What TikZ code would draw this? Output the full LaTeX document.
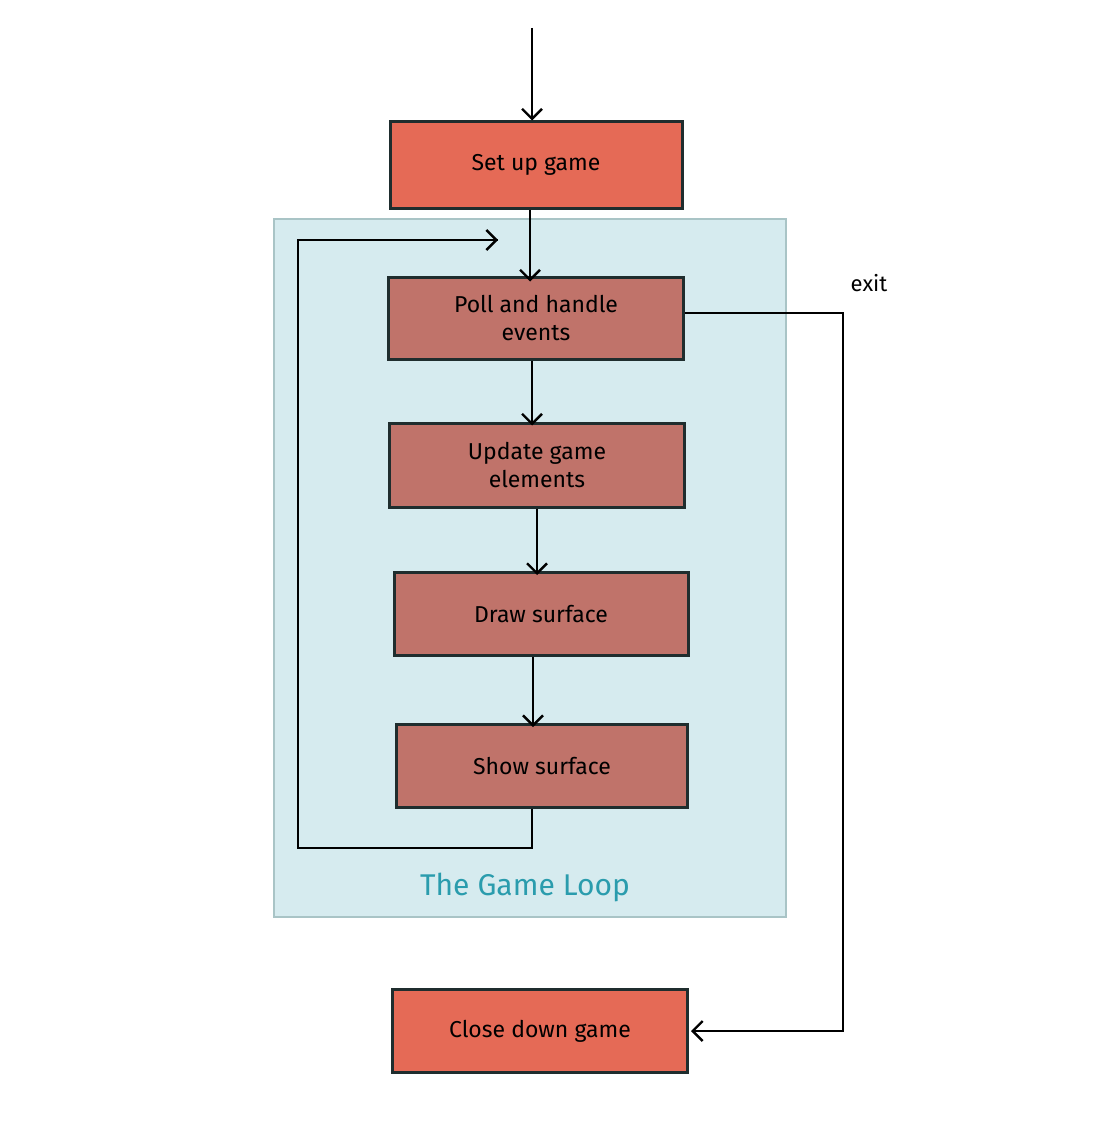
\documentclass[tikz,border=0pt]{standalone}
\usepackage{fontspec}
\setmainfont{Fira Sans}
\usetikzlibrary{arrows.meta}
\definecolor{topc}{HTML}{E56A56}
\definecolor{inc}{HTML}{C0736A}
\definecolor{bgc}{HTML}{D6EBEF}
\definecolor{bgl}{HTML}{A9C4C6}
\definecolor{edge}{HTML}{1F2D2E}
\definecolor{teal}{HTML}{2A9CAD}
\begin{document}
\begin{tikzpicture}[x=1pt,y=-1pt,
  box/.style={draw=edge,line width=3pt,minimum height=84pt,align=center,font=\fontsize{23}{28}\selectfont},
  arr/.style={draw=black,line width=2.4pt,-{Straight Barb[length=10pt,width=20pt]}},
  ln/.style={draw=black,line width=2.4pt}]
\useasboundingbox (0,0) rectangle (1113,1134);
\node[draw=bgl,fill=bgc,line width=1.5pt,minimum width=512pt,minimum height=698pt,inner sep=0] (loop) at (530,568) {};
\node[font=\fontsize{30}{32}\selectfont,text=teal] (lbl) at (525,887) {The Game Loop};
\node[box,fill=topc,minimum width=292pt,minimum height=86pt] (setup) at (536,165) {Set up game};
\node[box,fill=inc,minimum width=295pt,minimum height=82pt] (poll) at (536,318) {Poll and handle\\events};
\node[box,fill=inc,minimum width=295pt] (upd) at (537,465) {Update game\\elements};
\node[box,fill=inc,minimum width=294pt,minimum height=83pt] (draw) at (541,614) {Draw surface};
\node[box,fill=inc,minimum width=291pt,minimum height=83pt] (show) at (542,766) {Show surface};
\node[box,fill=topc,minimum width=295pt,minimum height=83pt] (close) at (540,1031) {Close down game};
\coordinate (start) at (532,28);
\coordinate (lb) at (532,848);
\coordinate (lt) at (298,240);
\coordinate (ltip) at (498,240);
\coordinate (ex) at (843,313);
\node[font=\fontsize{22}{24}\selectfont] (exitl) at (869,283) {exit};
\draw[arr] (start) -- (setup.north -| start);
\draw[arr] (setup.south -| 530,0) -- ([yshift=-6pt]poll.north -| 530,0);
\draw[arr] (poll.south -| 532,0) -- ([yshift=-4pt]upd.north -| 532,0);
\draw[arr] (upd.south -| 537,0) -- ([yshift=-4pt]draw.north -| 537,0);
\draw[arr] (draw.south -| 533,0) -- ([yshift=-4pt]show.north -| 533,0);
\draw[ln] (show.south -| lb) -- (lb) -- (lb -| lt) -- (lt) -- (ltip);
\draw[arr] ([xshift=-12pt]ltip) -- (ltip);
\draw[arr] (poll.east |- ex) -- (ex) -- (ex |- close.east) -- ([xshift=2pt]close.east);
\end{tikzpicture}
\end{document}
